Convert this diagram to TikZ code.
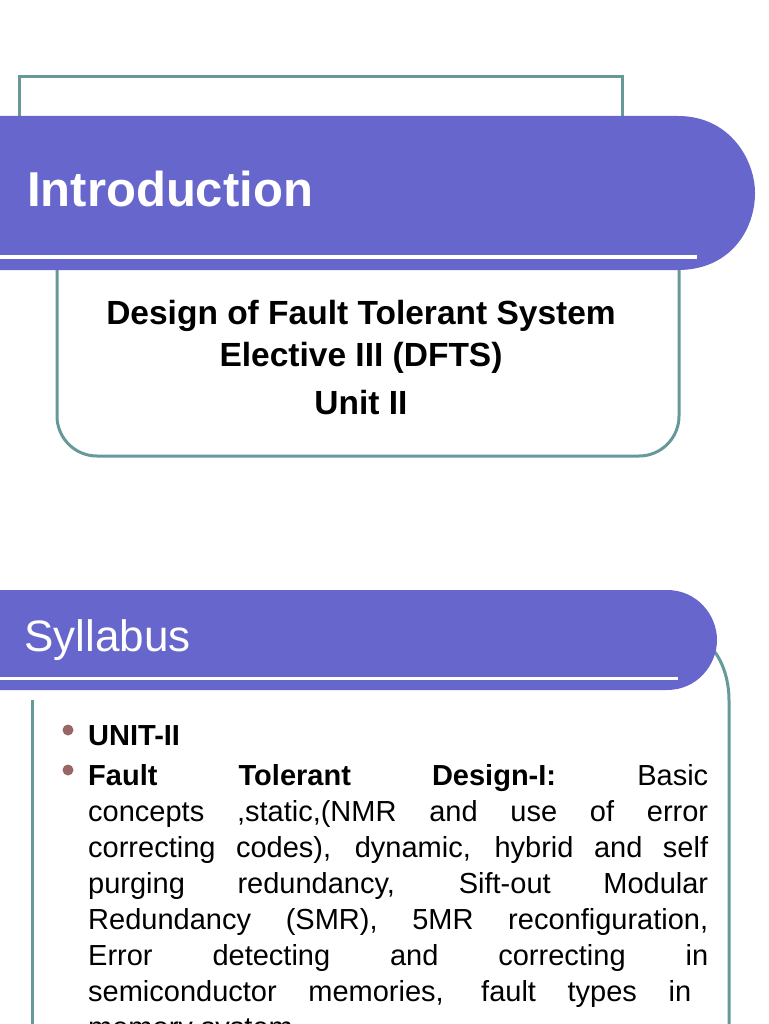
\documentclass[tikz,border=0pt]{standalone}
\usepackage{fontspec}
\setmainfont{Liberation Sans}
\definecolor{ban}{HTML}{6666CC}
\definecolor{tl}{HTML}{669999}
\definecolor{bul}{HTML}{996666}
\begin{document}
\begin{tikzpicture}[x=1pt,y=-1pt,
  frame/.style={draw=tl,line width=3pt},
  line/.style={anchor=base west,inner sep=0pt,font=\fontsize{29}{30}\selectfont},
  dot/.style={circle,fill=bul,minimum size=11pt,inner sep=0pt}]
\useasboundingbox (0,0) rectangle (768,1024);
\clip (0,0) rectangle (768,1024);
% top frame
\draw[frame] (19,200) -- (19,77) -- (622,77) -- (622,200);
\draw[frame,rounded corners=40] (57,200) -- (57,456) -- (679,456) -- (679,200);
% banner 1
\fill[ban] (-5,116) -- (678,116) .. controls (730,116) and (755,160) .. (755,193) .. controls (755,230) and (730,270) .. (678,270) -- (-5,270) -- cycle;
\draw[white,line width=4pt] (-5,257) -- (697,257);
\node[anchor=base west,inner sep=0pt,text=white,font=\fontsize{49}{50}\selectfont\bfseries] (t1) at (27,207) {Introduction};
\node[anchor=base,inner sep=0pt,font=\fontsize{33.5}{34}\selectfont\bfseries] (s1) at (361,324) {Design of Fault Tolerant System};
\node[anchor=base,inner sep=0pt,font=\fontsize{33.5}{34}\selectfont\bfseries] (s2) at (361,366) {Elective III (DFTS)};
\node[anchor=base,inner sep=0pt,font=\fontsize{33.5}{34}\selectfont\bfseries] (s3) at (361,414) {Unit II};
% syllabus frame
\draw[frame] (32,700) -- (32,1030);
\draw[frame] (729,1030) -- (729,700) .. controls (729,670) and (715,645) .. (700,640);
% banner 2
\fill[ban] (-5,590) -- (667,590) .. controls (697,590) and (717,615) .. (717,640) .. controls (717,665) and (697,690) .. (667,690) -- (-5,690) -- cycle;
\draw[white,line width=3pt] (-5,678) -- (678,678);
\node[anchor=base west,inner sep=0pt,text=white,font=\fontsize{44}{46}\selectfont] (t2) at (24,651) {Syllabus};
% bullets
\node[dot] (d1) at (68,730) {};
\node[dot] (d2) at (68,770) {};
\node[line] (l0) at (88,745) {\bfseries UNIT-II};
\node[line] (l1) at (88,785) {\makebox[620pt][s]{\bfseries Fault Tolerant Design-I:\mdseries\ Basic}};
\node[line] (l2) at (88,821) {\makebox[620pt][s]{concepts ,static,(NMR and use of error}};
\node[line] (l3) at (88,857) {\makebox[620pt][s]{correcting codes), dynamic, hybrid and self}};
\node[line] (l4) at (88,893) {\makebox[620pt][s]{purging redundancy, Sift-out Modular}};
\node[line] (l5) at (88,929) {\makebox[620pt][s]{Redundancy (SMR), 5MR reconfiguration,}};
\node[line] (l6) at (88,965) {\makebox[620pt][s]{Error detecting and correcting in}};
\node[line] (l7) at (88,1001) {\makebox[603pt][s]{semiconductor memories, fault types in}};
\node[line] (l8) at (88,1037) {memory system.};
\end{tikzpicture}
\end{document}
